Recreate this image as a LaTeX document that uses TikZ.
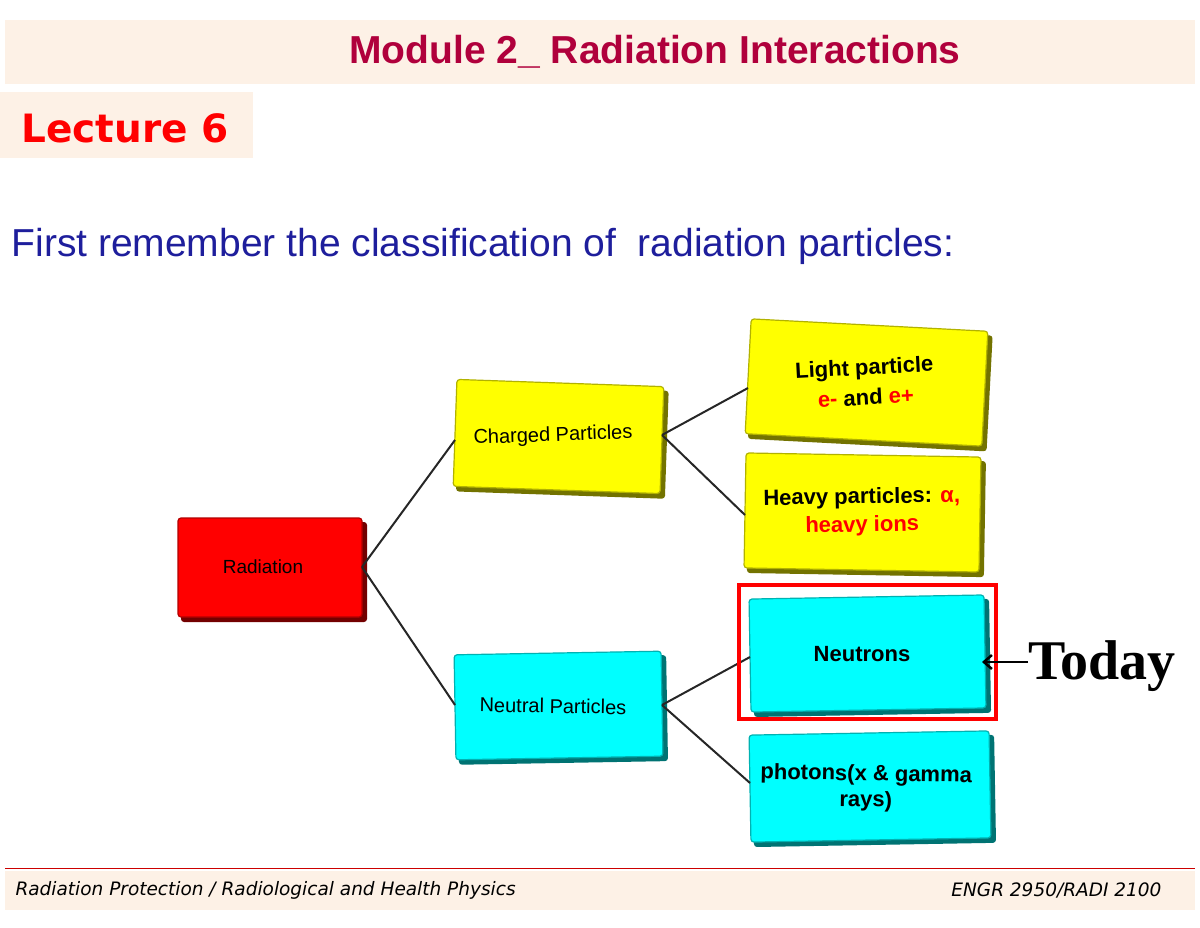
\documentclass[tikz,border=0pt]{standalone}
\usepackage{fontspec}
\usetikzlibrary{arrows.meta}
\setmainfont{Liberation Sans}
\newfontfamily\verd{DejaVu Sans}
\newfontfamily\tms{Liberation Serif}
\begin{document}
\begin{tikzpicture}[x=1pt,y=-1pt,
  link/.style={line width=2pt,black!85}]
\useasboundingbox (0,0) rectangle (1200,927);
\definecolor{peach}{HTML}{FDF1E6}
\definecolor{crim}{HTML}{B0003C}
\definecolor{blu}{HTML}{1E1E9C}
\definecolor{cy}{HTML}{00FFFF}
\definecolor{yl}{HTML}{FFFF00}
\definecolor{rd}{HTML}{FF0000}
\fill[peach] (5,20) rectangle (1195,84);
\node[font=\bfseries\fontsize{39}{41}\selectfont,text=crim] (title) at (655,52) {Module 2\_ Radiation Interactions};
\fill[peach] (0,92) rectangle (253,158);
\node[font=\verd\bfseries\fontsize{39}{41}\selectfont,text=red] (lec) at (125,128) {Lecture 6};
\node[font=\fontsize{39}{41}\selectfont,text=blu,anchor=west] (first) at (8,246) {First remember the classification of\ \ radiation particles:};
\foreach \x/\y/\w/\h/\c/\r in {178/518/184/99/rd/0, 455/383/207/107/yl/-2, 455/653/207/105/cy/1, 748/325/237/115/yl/-3, 745/455/235/115/yl/-1, 750/597/235/113/cy/1, 750/733/240/107/cy/1}{
  \begin{scope}[rotate around={\r:(\x+\w/2,\y+\h/2)}]
  \fill[\c!45!black,rounded corners=3pt] (\x+3,\y+4) rectangle (\x+\w+5,\y+\h+5);
  \fill[\c, draw=\c!70!black, line width=1.2pt,rounded corners=3pt] (\x,\y) rectangle (\x+\w,\y+\h);
  \end{scope}}
\node[font=\fontsize{19}{21}\selectfont] (rad) at (263,567) {Radiation};
\node[font=\fontsize{20}{22}\selectfont,rotate=2] (chg) at (553,436) {Charged Particles};
\node[font=\fontsize{20}{22}\selectfont,rotate=-1] (neu) at (553,706) {Neutral Particles};
\node[font=\bfseries\fontsize{22}{30}\selectfont,align=center,rotate=3] (light) at (865,382) {Light particle\\\textcolor{red}{e-} and \textcolor{red}{e+}};
\node[font=\bfseries\fontsize{22}{28}\selectfont,align=center,rotate=1] (heavy) at (862,512) {Heavy particles: \textcolor{red}{α,}\\\textcolor{red}{heavy ions}};
\node[font=\bfseries\fontsize{22}{26}\selectfont] (neutr) at (862,654) {Neutrons};
\node[font=\bfseries\fontsize{22}{26}\selectfont,align=center,rotate=-1] (phot) at (866,788) {photons(x \& gamma\\rays)};
\coordinate (radR) at (362,567);
\coordinate (chgL) at (455,440);
\coordinate (chgR) at (662,435);
\coordinate (neuL) at (455,705);
\coordinate (neuR) at (662,705);
\coordinate (lightL) at (748,388);
\coordinate (heavyL) at (745,515);
\coordinate (neutrL) at (750,657);
\coordinate (photL) at (750,783);
\draw[link] (radR) -- (chgL);
\draw[link] (radR) -- (neuL);
\draw[link] (chgR) -- (lightL);
\draw[link] (chgR) -- (heavyL);
\draw[link] (neuR) -- (neutrL);
\draw[link] (neuR) -- (photL);
\draw[red,line width=4.5pt] (739,585) rectangle (996,719);
\node[font=\tms\bfseries\fontsize{56}{58}\selectfont,anchor=west,inner sep=0pt] (today) at (1028,666) {Today};
\coordinate (arrEnd) at (982,662);
\draw[line width=2.5pt,-{Straight Barb[length=8pt,width=14pt]}] (today.west) ++(0,-4) -- (arrEnd);
\draw[red!80!black,line width=1pt] (5,868) -- (1195,868);
\fill[peach] (5,871) rectangle (1195,910);
\node[font=\verd\itshape\fontsize{18.5}{20}\selectfont,anchor=west] (foot1) at (12,890) {Radiation Protection / Radiological and Health Physics};
\node[font=\verd\itshape\fontsize{18.5}{20}\selectfont,anchor=east] (foot2) at (1165,890) {ENGR 2950/RADI 2100};
\end{tikzpicture}
\end{document}
